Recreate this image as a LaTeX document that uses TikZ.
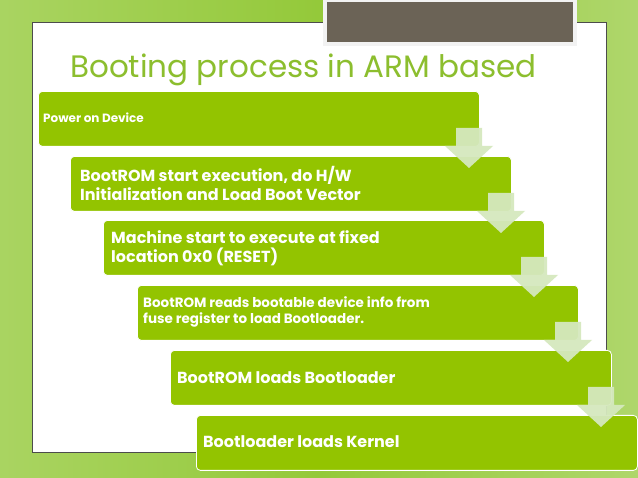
\documentclass[tikz,border=0pt]{standalone}
\usepackage{fontspec}
\setmainfont{Poppins}
\usetikzlibrary{calc}
\begin{document}
\definecolor{bgg}{HTML}{94C93A}
\definecolor{boxg}{HTML}{93C400}
\definecolor{arrg}{HTML}{D5E8BE}
\definecolor{darkb}{HTML}{6B6356}
\definecolor{titleg}{HTML}{8CBE2E}
\begin{tikzpicture}[x=1pt,y=-1pt,
  stepbox/.style={fill=boxg,draw=white,line width=0.8pt,rounded corners=4pt,minimum width=441pt,minimum height=55pt,anchor=north west,inner sep=0pt},
  txt/.style={anchor=west,text=white,font=\bfseries,align=left,inner sep=0pt},
  darr/.style={fill=arrg,draw=none,opacity=0.95}]
\useasboundingbox (0,0) rectangle (638,478);
\shade[left color=bgg!80!white,right color=bgg!75!white,middle color=bgg] (0,0) rectangle (638,478);
\node[draw=black!70,line width=0.8pt,fill=white,minimum width=574pt,minimum height=430pt,anchor=north west,inner sep=0pt] (panel) at (32,22) {};
\node[fill=darkb,draw=white!90!gray,line width=4pt,minimum width=250pt,minimum height=44pt,anchor=north west,inner sep=0pt] (dark) at (323,-2) {};
\node[anchor=base west,text=titleg,font=\fontsize{31}{31}\selectfont,inner sep=0pt] (title) at (70,78) {Booting process in ARM based};
\foreach \i/\x/\y in {1/38/91,2/70/156,3/103/220,4/137/285,5/170/350,6/196/415}{
  \node[stepbox] (b\i) at (\x,\y) {};
}
\foreach \i in {1,...,5}{
  \path[darr] ($(b\i.north west)+(418,37)$) -- ++(26,0) -- ++(0,18) -- ++(11,0) -- ++(-24,22) -- ++(-24,-22) -- ++(11,0) -- cycle;
}
\node[txt,font=\bfseries\fontsize{12}{14}\selectfont] (t1) at (43,118) {Power on Device};
\node[txt,font=\bfseries\fontsize{16}{19}\selectfont] (t2) at (80,183) {BootROM start execution, do H/W\\Initialization and Load Boot Vector};
\node[txt,font=\bfseries\fontsize{16}{19}\selectfont] (t3) at (111,248) {Machine start to execute at fixed\\location 0x0 (RESET)};
\node[txt,font=\bfseries\fontsize{13.5}{16}\selectfont] (t4) at (143,312) {BootROM reads bootable device info from\\fuse register to load Bootloader.};
\node[txt,font=\bfseries\fontsize{16}{19}\selectfont] (t5) at (177,378) {BootROM loads Bootloader};
\node[txt,font=\bfseries\fontsize{16}{19}\selectfont] (t6) at (203,442) {Bootloader loads Kernel};
\end{tikzpicture}
\end{document}
